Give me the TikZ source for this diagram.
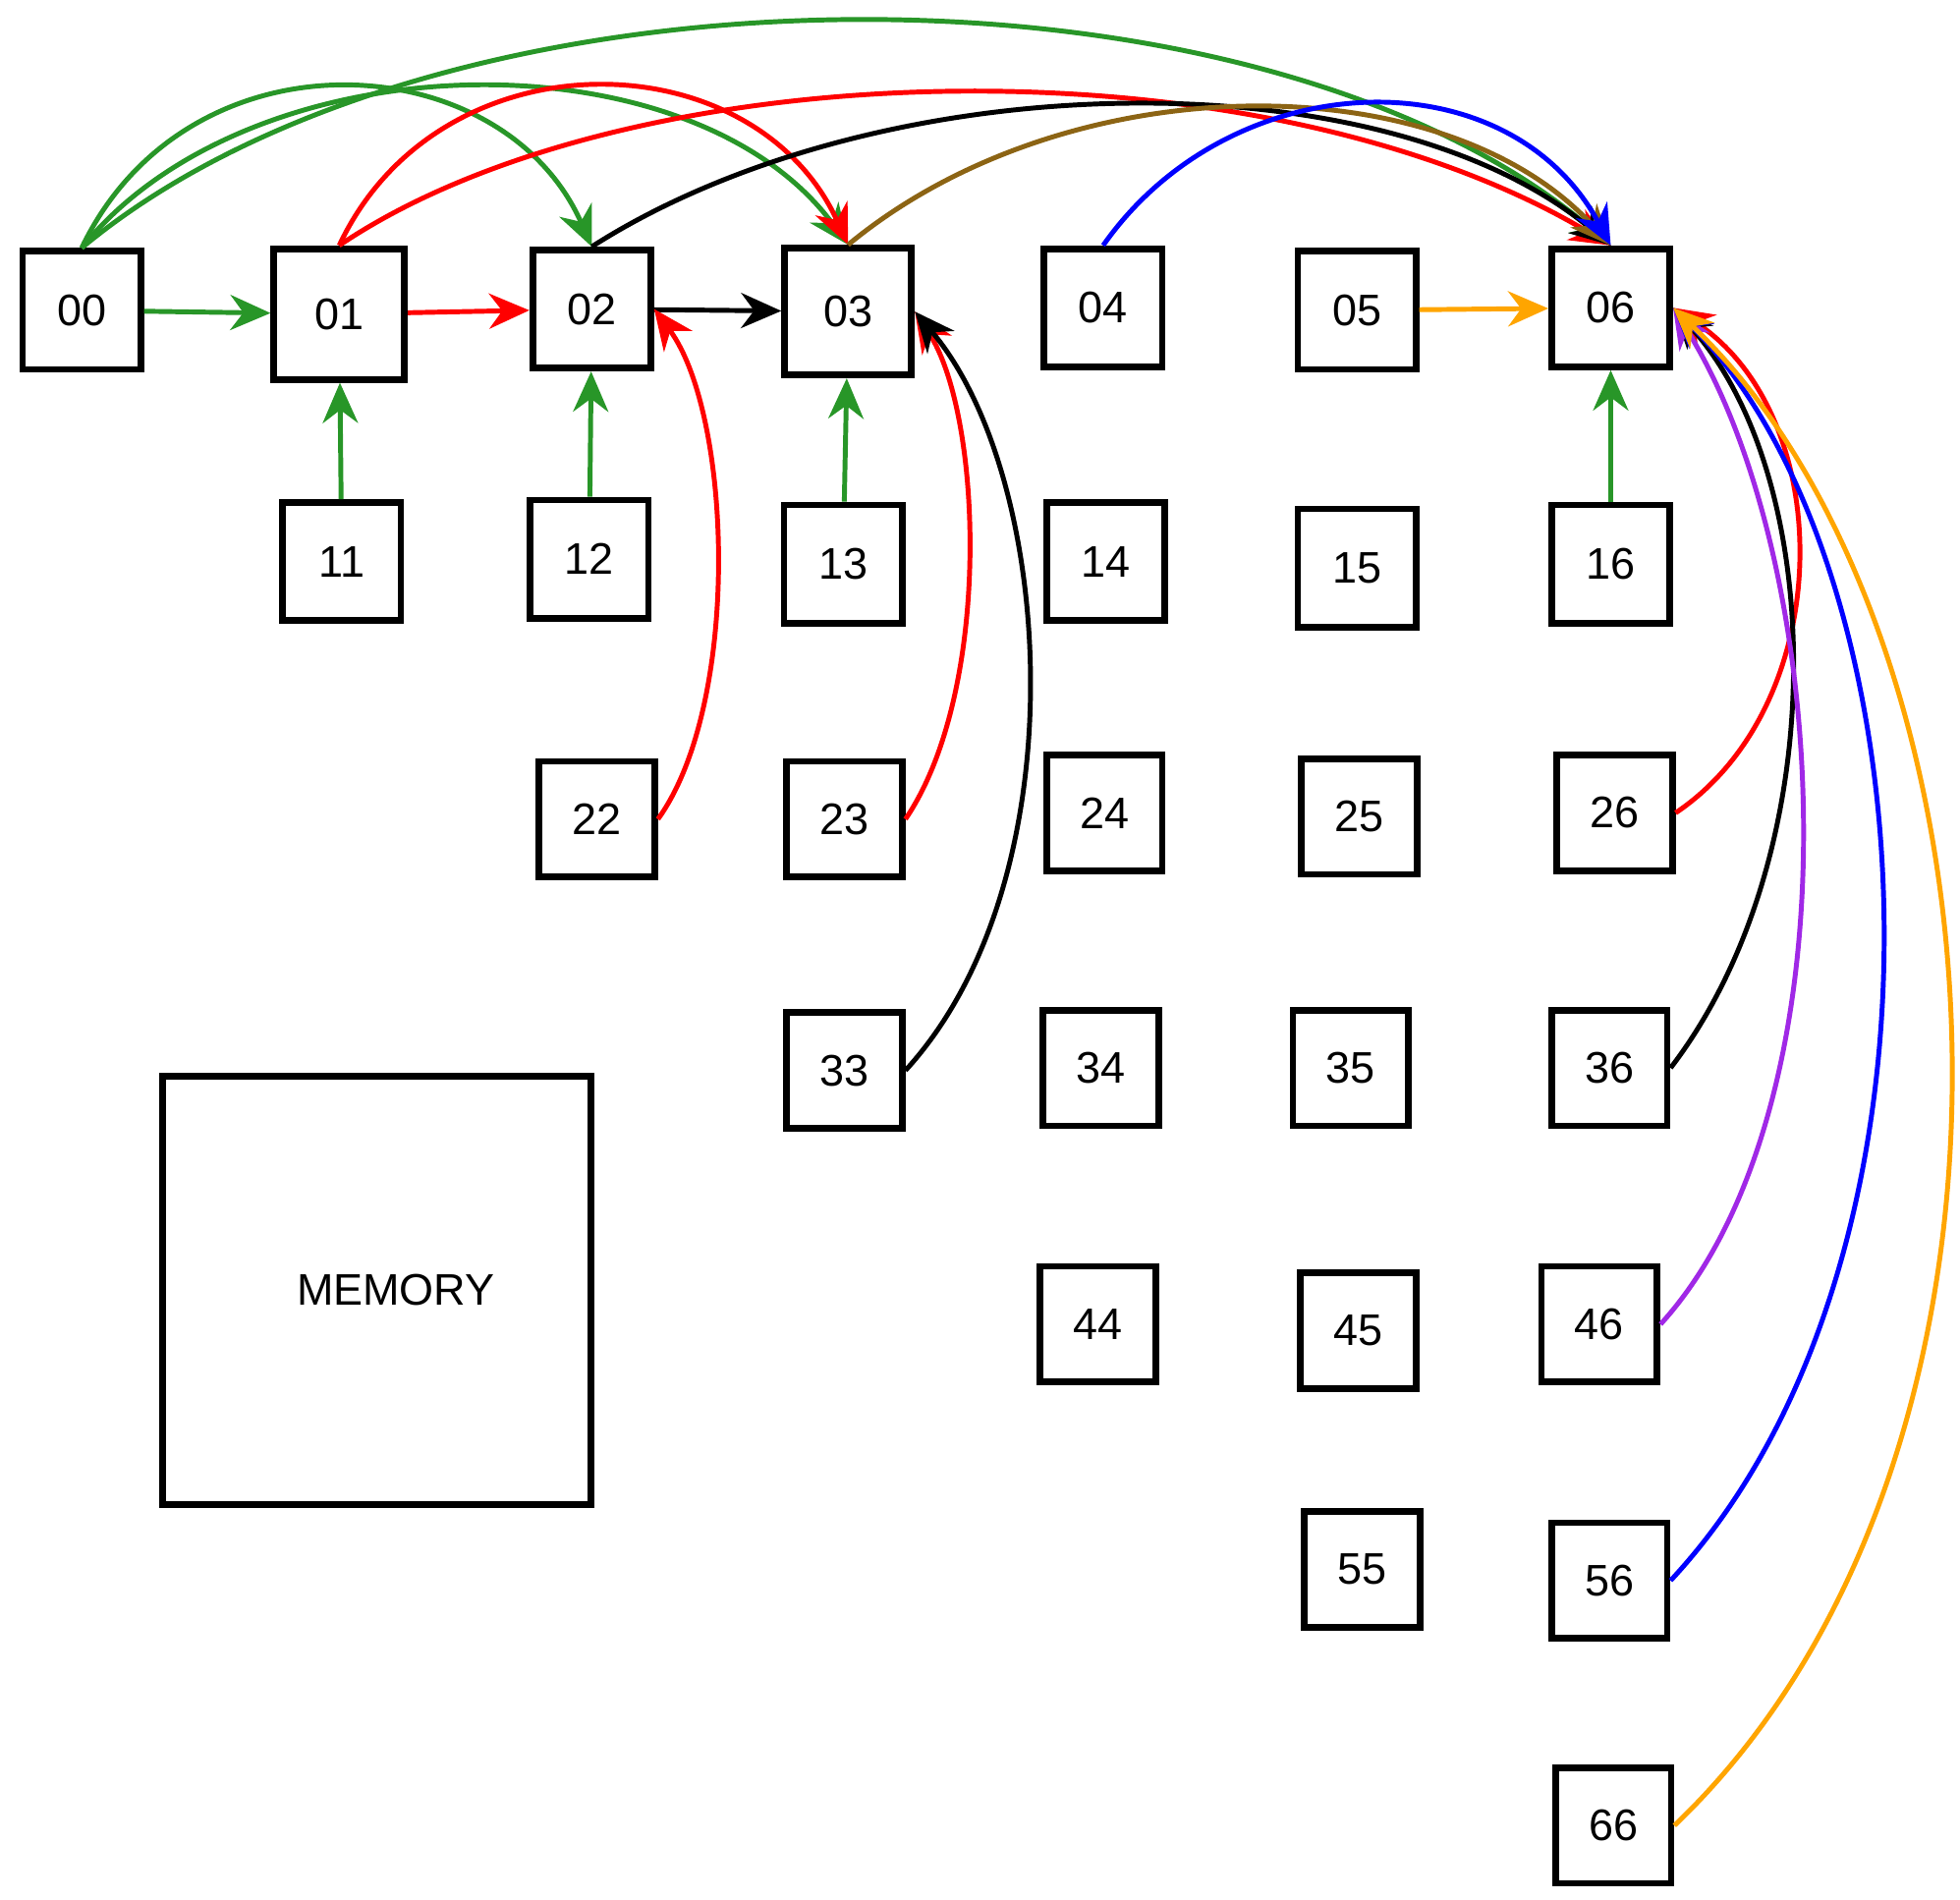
\documentclass[tikz,border=0pt]{standalone}
\usepackage{fontspec}
\setmainfont{Liberation Sans}
\usetikzlibrary{arrows.meta}
\definecolor{gr}{RGB}{40,150,40}
\definecolor{br}{RGB}{140,100,20}
\definecolor{org}{RGB}{255,165,0}
\definecolor{pur}{RGB}{160,40,230}
\begin{document}
\begin{tikzpicture}[x=0.01cm,y=-0.01cm,
  box/.style={draw,line width=1.5pt,minimum size=0.94cm,inner sep=0pt,font=\fontsize{10}{12}\selectfont},
  ar/.style={line width=1.1pt,-{Stealth[length=0.32cm,width=0.28cm]}},
  ln/.style={line width=1.1pt}]
\useasboundingbox[fill=white] (0,0) rectangle (1560,1512);
\node[box] (n00) at (65,247) {00};
\node[box,minimum size=1.04cm] (n01) at (270,250) {01};
\node[box] (n02) at (471,246) {02};
\node[box,minimum size=1.01cm] (n03) at (675,248) {03};
\node[box] (n04) at (878,245) {04};
\node[box] (n05) at (1080,247) {05};
\node[box] (n06) at (1282,245) {06};
\node[box] (n11) at (272,447) {11};
\node[box] (n12) at (469,445) {12};
\node[box] (n13) at (671,449) {13};
\node[box] (n14) at (880,447) {14};
\node[box] (n15) at (1080,452) {15};
\node[box] (n16) at (1282,449) {16};
\node[box,minimum size=0.92cm] (n22) at (475,652) {22};
\node[box,minimum size=0.92cm] (n23) at (672,652) {23};
\node[box,minimum size=0.92cm] (n24) at (879,647) {24};
\node[box,minimum size=0.92cm] (n25) at (1082,650) {25};
\node[box,minimum size=0.92cm] (n26) at (1285,647) {26};
\node[box,minimum size=0.92cm] (n33) at (672,852) {33};
\node[box,minimum size=0.92cm] (n34) at (876,850) {34};
\node[box,minimum size=0.92cm] (n35) at (1075,850) {35};
\node[box,minimum size=0.92cm] (n36) at (1281,850) {36};
\node[box,minimum size=0.92cm] (n44) at (874,1054) {44};
\node[box,minimum size=0.92cm] (n45) at (1081,1059) {45};
\node[box,minimum size=0.92cm] (n46) at (1273,1054) {46};
\node[box,minimum size=0.92cm] (n55) at (1084,1249) {55};
\node[box,minimum size=0.92cm] (n56) at (1281,1258) {56};
\node[box,minimum size=0.92cm] (n66) at (1284,1453) {66};
\node[box,minimum size=3.41cm] (mem) at (300,1027) {\hspace{0.3cm}MEMORY};
% straight
\draw[ar,gr] (n00) -- (n01);
\draw[ar,red] (n01) -- (n02);
\draw[ar] (n02) -- (n03);
\draw[ar,org] (n05) -- (n06);
\draw[ar,gr] (n11) -- (n01);
\draw[ar,gr] (n12) -- (n02);
\draw[ar,gr] (n13) -- (n03);
\draw[ar,gr] (n16) -- (n06);
% top curves
\draw[ar,gr] (n00.north) .. controls (150,20) and (400,35) .. (n02.north);
\draw[ar,gr] (n00.north) .. controls (200,30) and (550,25) .. (n03.north);
\draw[ar,gr] (n00.north) .. controls (350,-40) and (1000,-45) .. (n06.north);
\draw[ar,red] (n01.north) .. controls (350,25) and (600,30) .. (n03.north);
\draw[ar,red] (n01.north) .. controls (500,40) and (1000,27) .. (n06.north);
\draw[ar] (n02.north) .. controls (700,50) and (1100,43) .. (n06.north);
\draw[ar,br] (n03.north) .. controls (850,50) and (1150,50) .. (n06.north);
\draw[ar,blue] (n04.north) .. controls (980,50) and (1200,43) .. (n06.north);
% side curves
\draw[ar,red] (n22.east) .. controls (590,560) and (583,330) .. (n02.east);
\draw[ar,red] (n23.east) .. controls (790,550) and (782,330) .. (n03.east);
\draw[ar] (n33.east) .. controls (860,700) and (840,380) .. (n03.east);
\draw[ar,red] (n26.east) .. controls (1463,560) and (1463,330) .. (n06.east);
\draw[ar] (n36.east) .. controls (1460,680) and (1455,380) .. (n06.east);
\draw[ar,pur] (n46.east) .. controls (1480,880) and (1460,450) .. (n06.east);
\draw[ar,blue] (n56.east) .. controls (1570,1000) and (1537,450) .. (n06.east);
\draw[ar,org] (n66.east) .. controls (1650,1150) and (1600,500) .. (n06.east);
\end{tikzpicture}
\end{document}
